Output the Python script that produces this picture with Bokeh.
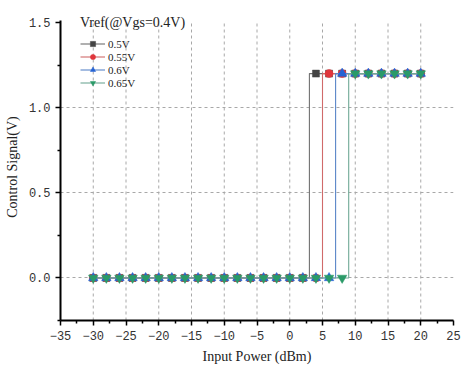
from bokeh.plotting import figure
from bokeh.models import Legend, LegendItem, FixedTicker, Range1d, NumeralTickFormatter
from bokeh.embed import file_html
from bokeh.resources import INLINE

# ---- data ----
input_power = [-30, -28, -26, -24, -22, -20, -18, -16, -14, -12, -10, -8, -6,
               -4, -2, 0, 2, 4, 6, 8, 10, 12, 14, 16, 18, 20]
v_050 = [0, 0, 0, 0, 0, 0, 0, 0, 0, 0, 0, 0, 0,
         0, 0, 0, 0, 1.2, 1.2, 1.2, 1.2, 1.2, 1.2, 1.2, 1.2, 1.2]
v_055 = [0, 0, 0, 0, 0, 0, 0, 0, 0, 0, 0, 0, 0,
         0, 0, 0, 0, 0, 1.2, 1.2, 1.2, 1.2, 1.2, 1.2, 1.2, 1.2]
v_060 = [0, 0, 0, 0, 0, 0, 0, 0, 0, 0, 0, 0, 0,
         0, 0, 0, 0, 0, 0, 1.2, 1.2, 1.2, 1.2, 1.2, 1.2, 1.2]
v_065 = [0, 0, 0, 0, 0, 0, 0, 0, 0, 0, 0, 0, 0,
         0, 0, 0, 0, 0, 0, 0, 1.2, 1.2, 1.2, 1.2, 1.2, 1.2]
series_labels = ["0.5V", "0.55V", "0.6V", "0.65V"]
legend_title = "Vref(@Vgs=0.4V)"
x_ticks = [-35, -30, -25, -20, -15, -10, -5, 0, 5, 10, 15, 20, 25]
y_ticks = [0.0, 0.5, 1.0, 1.5]
x_grid = [-30, -25, -20, -15, -10, -5, 0, 5, 10, 15, 20]
y_grid = [0.0, 0.5, 1.0]
y_min, y_max = -0.25, 1.5

series = [v_050, v_055, v_060, v_065]
markers = ["square", "circle", "triangle", "inverted_triangle"]
msizes = [7, 8, 9.5, 9.5]
mcolors = ["#444444", "#e0363c", "#2563d4", "#2a9a68"]
lcolors = ["#707070", "#d06a6a", "#5a86c8", "#6fa896"]

# frame extends a little above 1.5 so the legend title fits inside it
p = figure(width=474, height=375, output_backend="svg", toolbar_location=None,
           x_range=Range1d(-35, 25), y_range=Range1d(y_min, 1.553),
           min_border_left=60, min_border_right=21, min_border_top=13,
           min_border_bottom=55)
p.outline_line_color = None
p.background_fill_color = "white"
p.border_fill_color = "white"

# vertical grid lines, limited to the axis extent
p.xgrid.visible = False
p.segment(x0=x_grid, y0=[y_min] * len(x_grid), x1=x_grid, y1=[y_max] * len(x_grid),
          line_color="#a8a8a8", line_dash="3 3", line_width=1, level="underlay")

items = []
for ys, mk, ms, mc, lc, lab in zip(series, markers, msizes, mcolors, lcolors, series_labels):
    r1 = p.step(input_power, ys, mode="center", line_color=lc, line_width=1.1)
    r2 = p.scatter(input_power, ys, marker=mk, size=ms, fill_color=mc,
                   line_color=mc, line_width=0.5)
    items.append(LegendItem(label=lab, renderers=[r1, r2]))

legend = Legend(items=items, location=(20, 231), title=legend_title)
legend.title_text_font = "Liberation Serif"
legend.title_text_font_size = "14px"
legend.title_text_font_style = "normal"
legend.title_text_color = "#222222"
legend.title_standoff = 6
legend.label_text_font = "Liberation Serif"
legend.label_text_font_size = "11px"
legend.label_text_color = "#222222"
legend.label_height = 13
legend.glyph_height = 13
legend.glyph_width = 25
legend.label_standoff = 3
legend.spacing = 0
legend.padding = 0
legend.margin = 0
legend.border_line_color = None
legend.background_fill_alpha = 0
p.add_layout(legend)

for ax in (p.xaxis[0], p.yaxis[0]):
    ax.axis_line_color = "black"
    ax.axis_line_width = 2
    ax.major_tick_line_color = "black"
    ax.major_tick_line_width = 1.5
    ax.minor_tick_line_color = "black"
    ax.minor_tick_line_width = 1.5
    ax.major_tick_out = 5
    ax.major_tick_in = 0
    ax.minor_tick_out = 3
    ax.minor_tick_in = 0
    ax.major_label_text_font = "Liberation Mono"
    ax.major_label_text_font_size = "12px"
    ax.major_label_text_color = "#333333"
    ax.major_label_standoff = 5
    ax.axis_label_text_font = "Liberation Serif"
    ax.axis_label_text_font_size = "14px"
    ax.axis_label_text_font_style = "normal"
    ax.axis_label_text_color = "#222222"

p.yaxis.bounds = (y_min, y_max + 0.01)
p.xaxis.ticker = FixedTicker(ticks=x_ticks,
                             minor_ticks=[-32.5, -27.5, -22.5, -17.5, -12.5, -7.5,
                                          -2.5, 2.5, 7.5, 12.5, 17.5, 22.5])
p.yaxis.ticker = FixedTicker(ticks=y_ticks, minor_ticks=[-0.25, 0.25, 0.75, 1.25])
p.yaxis.formatter = NumeralTickFormatter(format="0.0")
p.xaxis.axis_label = "Input Power (dBm)"
p.yaxis.axis_label = "Control Signal(V)"
p.xaxis.axis_label_standoff = 6
p.yaxis.axis_label_standoff = 6

p.ygrid.ticker = FixedTicker(ticks=y_grid)
p.ygrid.grid_line_color = "#a8a8a8"
p.ygrid.grid_line_dash = "3 3"
p.ygrid.grid_line_width = 1

open("out.html", "w").write(file_html(p, INLINE))
